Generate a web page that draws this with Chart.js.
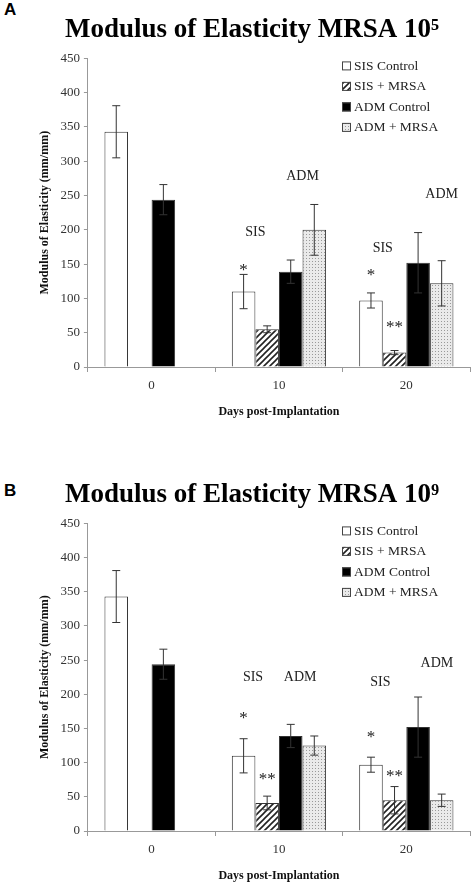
<!DOCTYPE html>
<html>
<head>
<meta charset="utf-8">
<script src="https://cdn.jsdelivr.net/npm/chart.js@4.4.1/dist/chart.umd.min.js"></script>
<style>
  body { margin: 0; background: #fff; width: 474px; height: 887px; position: relative; overflow: hidden; }
  .panel { position: absolute; left: 0; width: 474px; }
  .letter { position: absolute; left: 4px; font: bold 17px "Liberation Sans", Arial, sans-serif; }
</style>
</head>
<body>
<div class="letter" style="top:0px">A</div>
<div class="letter" style="top:481px">B</div>
<div class="panel" style="top:0px;height:430px"><canvas id="chartA"></canvas></div>
<div class="panel" style="top:465px;height:422px"><canvas id="chartB"></canvas></div>
<script>
// --- данные ---
const days = ['0', '10', '20'];
const seriesNames = ['SIS Control', 'SIS + MRSA', 'ADM Control', 'ADM + MRSA'];

const sisControl = [343, 110, 97];
const sisControlErr = [38, 25, 11];
const admControl = [244, 139, 152];
const admControlErr = [22, 17, 44];

// панель A (MRSA 10^5)
const sisMrsaA = [null, 55, 21];
const sisMrsaErrA = [0, 5, 3];
const admMrsaA = [null, 200, 122];
const admMrsaErrA = [0, 37, 33];

// панель B (MRSA 10^9)
const sisMrsaB = [null, 41, 45];
const sisMrsaErrB = [0, 10, 20];
const admMrsaB = [null, 125, 45];
const admMrsaErrB = [0, 14, 9];

// подписи над столбцами: [текст, группа, слот, значение]
const notesA = [
  ['SIS', 1, 0.5, 197], ['*', 1, 0, 140], ['ADM', 1, 2.5, 278],
  ['SIS', 2, 0.5, 173], ['*', 2, 0, 133], ['**', 2, 1, 57], ['ADM', 2, 3, 252]
];
const notesB = [
  ['SIS', 1, 0.4, 225], ['ADM', 1, 2.4, 225], ['*', 1, 0, 165], ['**', 1, 1, 76],
  ['SIS', 2, 0.4, 218], ['ADM', 2, 2.8, 245], ['*', 2, 0, 137], ['**', 2, 1, 79]
];

const serif = '"Liberation Serif", "DejaVu Serif", serif';

function hatchPattern() {
  const c = document.createElement('canvas');
  c.width = 6; c.height = 6;
  const g = c.getContext('2d');
  g.fillStyle = '#fff'; g.fillRect(0, 0, 6, 6);
  g.strokeStyle = '#222'; g.lineWidth = 1.6;
  g.beginPath();
  g.moveTo(0, 6); g.lineTo(6, 0);
  g.moveTo(-3, 3); g.lineTo(3, -3);
  g.moveTo(3, 9); g.lineTo(9, 3);
  g.stroke();
  return g.createPattern(c, 'repeat');
}

function dotPattern() {
  const c = document.createElement('canvas');
  c.width = 3; c.height = 3;
  const g = c.getContext('2d');
  g.fillStyle = '#eaeaea'; g.fillRect(0, 0, 3, 3);
  g.fillStyle = '#999'; g.fillRect(0, 0, 1, 1);
  return g.createPattern(c, 'repeat');
}

const fills = ['#ffffff', hatchPattern(), '#000000', dotPattern()];

// планки погрешностей, легенда и подписи
const extrasPlugin = {
  id: 'extras',
  afterDatasetsDraw(chart) {
    const ctx = chart.ctx;
    const y = chart.scales.y;
    const x = chart.scales.x;
    const errs = chart.options.plugins.extras.errors;
    ctx.save();
    ctx.strokeStyle = '#333';
    ctx.lineWidth = 1;
    chart.data.datasets.forEach((ds, di) => {
      chart.getDatasetMeta(di).data.forEach((bar, i) => {
        const v = ds.data[i];
        if (v == null) return;
        const e = errs[di][i];
        const top = y.getPixelForValue(v + e), bot = y.getPixelForValue(v - e);
        ctx.beginPath();
        ctx.moveTo(bar.x, top); ctx.lineTo(bar.x, bot);
        ctx.moveTo(bar.x - 4, top); ctx.lineTo(bar.x + 4, top);
        ctx.moveTo(bar.x - 4, bot); ctx.lineTo(bar.x + 4, bot);
        ctx.stroke();
      });
    });

    // подписи
    const bw = chart.getDatasetMeta(0).data[1].width;
    ctx.fillStyle = '#222';
    ctx.textAlign = 'center';
    ctx.textBaseline = 'middle';
    chart.options.plugins.extras.notes.forEach(([t, g, slot, v]) => {
      const px = x.getPixelForValue(g) + (slot - 1.5) * bw;
      ctx.font = (t.startsWith('*') ? '17px ' : '14px ') + serif;
      ctx.fillText(t, px, y.getPixelForValue(v));
    });

    // легенда
    const a = chart.chartArea;
    const lx = a.right - 128;
    ctx.textAlign = 'left';
    ctx.font = '13.5px ' + serif;
    seriesNames.forEach((n, i) => {
      const ly = a.top + 8 + i * 20.5;
      ctx.fillStyle = fills[i];
      ctx.fillRect(lx, ly - 5, 9, 9);
      ctx.strokeStyle = '#444';
      ctx.strokeRect(lx + 0.5, ly - 4.5, 8, 8);
      ctx.fillStyle = '#222';
      ctx.fillText(n, lx + 12, ly);
    });
    ctx.restore();
  }
};

function makeChart(id, titleText, sisMrsa, admMrsa, errs, notes, padBottom) {
  const values = [sisControl, sisMrsa, admControl, admMrsa];
  return new Chart(document.getElementById(id), {
    type: 'bar',
    data: {
      labels: days,
      datasets: seriesNames.map((n, i) => ({
        label: n,
        data: values[i],
        backgroundColor: fills[i],
        borderColor: '#333',
        borderWidth: 1,
        categoryPercentage: 0.74,
        barPercentage: 1.0
      }))
    },
    options: {
      responsive: true,
      maintainAspectRatio: false,
      animation: false,
      layout: { padding: { left: 34, right: 4, top: 0, bottom: padBottom } },
      plugins: {
        legend: { display: false },
        tooltip: { enabled: false },
        title: {
          display: true,
          text: titleText,
          color: '#000',
          font: { family: serif, size: 27, weight: 'bold' },
          padding: { top: 14, bottom: 12 }
        },
        extras: { errors: errs, notes: notes }
      },
      scales: {
        x: {
          offset: true,
          grid: { display: true, drawOnChartArea: false, offset: true, tickLength: 5, color: '#999' },
          border: { color: '#999' },
          ticks: { color: '#333', font: { family: serif, size: 13 }, padding: 6 },
          title: {
            display: true, text: 'Days post-Implantation', color: '#111',
            font: { family: serif, size: 12, weight: 'bold' }, padding: { top: 5 }
          }
        },
        y: {
          min: 0, max: 450,
          ticks: { stepSize: 50, color: '#333', font: { family: serif, size: 13 }, padding: 4 },
          grid: { display: true, drawOnChartArea: false, tickLength: 4, color: '#999' },
          border: { color: '#999' },
          title: {
            display: true, text: 'Modulus of Elasticity (mm/mm)', color: '#111',
            font: { family: serif, size: 12, weight: 'bold' }, padding: { bottom: 4 }
          }
        }
      }
    },
    plugins: [extrasPlugin]
  });
}

makeChart('chartA', 'Modulus of Elasticity MRSA 10\u2075', sisMrsaA, admMrsaA,
  [sisControlErr, sisMrsaErrA, admControlErr, admMrsaErrA], notesA, 7);
makeChart('chartB', 'Modulus of Elasticity MRSA 10\u2079', sisMrsaB, admMrsaB,
  [sisControlErr, sisMrsaErrB, admControlErr, admMrsaErrB], notesB, 0);
</script>
</body>
</html>
